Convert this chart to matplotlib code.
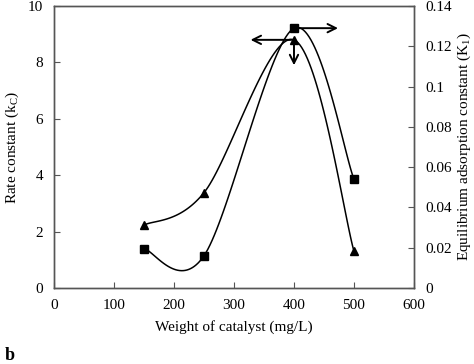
import numpy as np
import matplotlib
matplotlib.use("Agg")
import matplotlib.pyplot as plt

plt.rcParams['font.family'] = ['Liberation Serif', 'DejaVu Serif']

weights = [150, 250, 400, 500]
kc = [2.23, 3.38, 8.8, 1.3]          # rate constant (left axis), triangles
k1 = [0.0195, 0.016, 0.129, 0.054]   # equilibrium adsorption constant (right axis), squares


def smooth(xs, ys, n=40):
    """Excel-like smoothed line: Catmull-Rom Bezier through the points."""
    xs = np.asarray(xs, float)
    ys = np.asarray(ys, float)
    px = np.concatenate([[xs[0]], xs, [xs[-1]]])
    py = np.concatenate([[ys[0]], ys, [ys[-1]]])
    outx, outy = [], []
    t = np.linspace(0, 1, n)
    for i in range(1, len(xs)):
        p0 = np.array([px[i], py[i]])
        p3 = np.array([px[i + 1], py[i + 1]])
        c1 = p0 + (np.array([px[i + 1], py[i + 1]]) - np.array([px[i - 1], py[i - 1]])) / 6
        c2 = p3 - (np.array([px[i + 2], py[i + 2]]) - np.array([px[i], py[i]])) / 6
        b = ((1 - t) ** 3)[:, None] * p0 + (3 * (1 - t) ** 2 * t)[:, None] * c1 \
            + (3 * (1 - t) * t ** 2)[:, None] * c2 + (t ** 3)[:, None] * p3
        outx.extend(b[:, 0])
        outy.extend(b[:, 1])
    return np.array(outx), np.array(outy)


fig = plt.figure(figsize=(4.74, 3.64), dpi=100)
ax = fig.add_axes([0.1139, 0.2088, 0.7595, 0.7747])
ax2 = ax.twinx()

sx, sy = smooth(weights, kc)
ax.plot(sx, sy, color='black', lw=1.1)
ax.plot(weights, kc, linestyle='none', marker='^', color='black', ms=5.5)

sx2, sy2 = smooth(weights, k1)
ax2.plot(sx2, sy2, color='black', lw=1.1)
ax2.plot(weights, k1, linestyle='none', marker='s', color='black', ms=6)

ax.set_xlim(0, 600)
ax.set_ylim(0, 10)
ax2.set_ylim(0, 0.14)
ax.set_xticks([0, 100, 200, 300, 400, 500, 600])
ax.set_yticks([0, 2, 4, 6, 8, 10])
ax2.set_yticks([0, 0.02, 0.04, 0.06, 0.08, 0.1, 0.12, 0.14])
ax2.set_yticklabels(['0', '0.02', '0.04', '0.06', '0.08', '0.1', '0.12', '0.14'])

for a in (ax, ax2):
    for s in a.spines.values():
        s.set_color('#555555')
        s.set_linewidth(1.0)
    a.tick_params(direction='in', length=4, color='#555555', labelsize=11, pad=8)

ax.set_xlabel('Weight of catalyst (mg/L)', fontsize=11, labelpad=6)
ax.set_ylabel('Rate constant (k$_\\mathregular{C}$)', fontsize=11, labelpad=5)
ax2.set_ylabel('Equilibrium adsorption constant (K$_\\mathregular{1}$)', fontsize=11, labelpad=3)

# arrows indicating axes
arrow_kw = dict(arrowstyle='->', color='black', lw=1.4, mutation_scale=15)
ax.annotate('', xy=(323, kc[2]), xytext=(400, kc[2]), arrowprops=arrow_kw)
ax2.annotate('', xy=(478, k1[2]), xytext=(400, k1[2]), arrowprops=arrow_kw)
ax.annotate('', xy=(400, 7.8), xytext=(400, kc[2]), arrowprops=arrow_kw)

fig.text(0.01, 0.012, 'b', fontsize=13, fontweight='bold')

fig.savefig('out.png', dpi=100)
